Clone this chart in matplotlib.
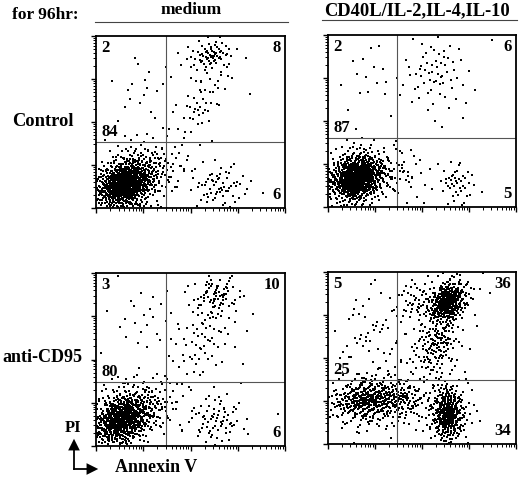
import numpy as np
import matplotlib
matplotlib.use("Agg")
import matplotlib.pyplot as plt
from matplotlib.patches import FancyArrowPatch

# ---------------- data ----------------
column_titles = ["medium", "CD40L/IL-2,IL-4,IL-10"]
row_titles = ["Control", "anti-CD95"]
x_label = "Annexin V"
y_label = "PI"
header = "for 96hr:"

# quadrant percentages: (upper-left, upper-right, lower-left, lower-right)
quad_pct = [
    ["2", "8", "84", "6"],
    ["2", "6", "87", "5"],
    ["3", "10", "80", "6"],
    ["5", "36", "25", "34"],
]
# quadrant gate positions in decades (x = Annexin V, y = PI)
gate_x = [1.48, 1.47, 1.48, 1.47]
gate_y = [1.53, 1.60, 1.48, 1.49]

# event populations per panel: (center x decade, center y decade, sd x, sd y, n events, xy corr)
populations = [
    [(0.62, 0.55, 0.36, 0.32, 850, 0.25), (1.00, 0.95, 0.45, 0.35, 110, 0.3),
     (2.60, 0.50, 0.35, 0.30, 70, 0.0), (2.45, 3.55, 0.28, 0.22, 75, 0.2),
     (2.20, 2.40, 0.35, 0.55, 55, 0.6), (1.00, 2.80, 0.45, 0.50, 20, 0.2)],
    [(0.62, 0.68, 0.35, 0.30, 900, 0.2), (1.60, 0.75, 0.30, 0.35, 25, 0.0),
     (2.75, 0.55, 0.22, 0.28, 45, 0.0), (2.30, 3.10, 0.40, 0.55, 70, 0.0),
     (0.90, 3.10, 0.45, 0.55, 18, 0.0)],
    [(0.55, 0.62, 0.36, 0.32, 820, 0.25), (1.00, 0.95, 0.45, 0.35, 110, 0.3),
     (2.55, 0.60, 0.35, 0.35, 80, 0.0), (2.55, 3.50, 0.28, 0.28, 80, 0.1),
     (2.30, 2.50, 0.40, 0.55, 70, 0.3), (1.05, 2.90, 0.45, 0.55, 28, 0.0)],
    [(0.85, 1.02, 0.45, 0.28, 470, 0.1), (1.55, 1.05, 0.35, 0.30, 110, 0.0),
     (2.55, 0.70, 0.20, 0.35, 400, 0.0), (2.55, 3.30, 0.22, 0.27, 360, 0.3),
     (2.30, 2.30, 0.30, 0.45, 160, 0.3), (1.90, 3.30, 0.30, 0.35, 60, 0.0),
     (0.90, 2.60, 0.45, 0.65, 55, 0.0)],
]


# deterministic quasi-random sequence (Halton) for event placement
def halton(i, base):
    f, r = 1.0, 0.0
    while i > 0:
        f /= base
        r += f * (i % base)
        i //= base
    return r


BASES = [(2, 3), (5, 7), (3, 5), (7, 11), (2, 5), (3, 7), (5, 11)]


def events(cx, cy, sx, sy, n, rho, offset, k):
    b1, b2 = BASES[k % len(BASES)]
    idx = np.arange(offset + 1, offset + n + 1)
    u1 = np.array([halton(i, b1) for i in idx])
    u2 = np.array([halton(i, b2) for i in idx])
    u1 = np.clip(u1, 1e-4, 1 - 1e-4)
    u2 = np.clip(u2, 1e-4, 1 - 1e-4)
    z1 = 0.551 * np.log(u1 / (1 - u1))
    z2 = 0.551 * np.log(u2 / (1 - u2))
    z2 = rho * z1 + np.sqrt(1 - rho ** 2) * z2
    return cx + sx * z1, cy + sy * z2


# ---------------- figure ----------------
W, H = 520, 478
fig = plt.figure(figsize=(W / 100, H / 100), dpi=100)
plt.rcParams['font.family'] = ['Liberation Serif', 'DejaVu Serif']

# panel rectangles in pixels (left, top, right, bottom)
rects = [(96, 36, 285, 208), (328, 35, 516, 207), (96, 273, 285, 446), (328, 272, 516, 444)]


def px2fig(x, y):
    return x / W, 1 - y / H


for p, (l, t, r, b) in enumerate(rects):
    ax = fig.add_axes([l / W, 1 - b / H, (r - l) / W, (b - t) / H])
    ax.set_xscale('log')
    ax.set_yscale('log')
    ax.set_xlim(1, 1e4)
    ax.set_ylim(1, 1e4)
    xs, ys = [], []
    off = 37 + p * 1711
    for k, (cx, cy, sx, sy, n, rho) in enumerate(populations[p]):
        x, y = events(cx, cy, sx, sy, n, rho, off, k + p)
        off += 53
        xs.append(x)
        ys.append(y)
    xs = np.concatenate(xs)
    ys = np.concatenate(ys)
    keep = (xs > 0.01) & (xs < 3.98) & (ys > 0.01) & (ys < 3.98)
    ax.scatter(10 ** xs[keep], 10 ** ys[keep], s=1.0, marker='s', c='black', linewidths=0)
    ax.axvline(10 ** gate_x[p], color='#555555', lw=0.8)
    ax.axhline(10 ** gate_y[p], color='#555555', lw=0.8)
    for sp in ax.spines.values():
        sp.set_linewidth(1.3)
    ax.tick_params(which='major', direction='out', length=3.5, width=1.0)
    ax.tick_params(which='minor', direction='out', length=2.0, width=0.7)
    ax.xaxis.set_major_locator(matplotlib.ticker.LogLocator(base=10, numticks=10))
    ax.yaxis.set_major_locator(matplotlib.ticker.LogLocator(base=10, numticks=10))
    ax.xaxis.set_minor_locator(matplotlib.ticker.LogLocator(base=10, subs=np.arange(2, 10), numticks=20))
    ax.yaxis.set_minor_locator(matplotlib.ticker.LogLocator(base=10, subs=np.arange(2, 10), numticks=20))
    ax.set_xticklabels([], minor=True)
    ax.set_yticklabels([], minor=True)
    ax.set_xticklabels([])
    ax.set_yticklabels([])
    ul, ur, ll, lr = quad_pct[p]
    kw = dict(transform=ax.transAxes, fontsize=12, fontweight='bold')
    ax.text(0.03, 0.975, ul, ha='left', va='top', **kw)
    ax.text(0.975, 0.975, ur, ha='right', va='top', **kw)
    gy = gate_y[p] / 4
    ax.text(0.03, gy + 0.01, ll, ha='left', va='bottom', **kw)
    ax.text(0.975, 0.03, lr, ha='right', va='bottom', **kw)

# header and column titles
fig.text(*px2fig(12, 15), header, ha='left', va='center', fontsize=12.5, fontweight='bold')
fig.text(*px2fig(191, 10), column_titles[0], ha='center', va='center', fontsize=12.5, fontweight='bold')
fig.text(*px2fig(417, 11), column_titles[1], ha='center', va='center', fontsize=13.3, fontweight='bold')
fig.add_artist(plt.Line2D([95 / W, 288 / W], [1 - 22 / H, 1 - 22 / H], color='#444444', lw=0.8))
fig.add_artist(plt.Line2D([322 / W, 517 / W], [1 - 20 / H, 1 - 20 / H], color='#444444', lw=0.8))

# row titles
fig.text(*px2fig(43, 121), row_titles[0], ha='center', va='center', fontsize=13.3, fontweight='bold')
fig.text(*px2fig(42, 358), row_titles[1], ha='center', va='center', fontsize=13, fontweight='bold')

# axis indicator arrows
ox, oy = 74, 469
fig.add_artist(plt.Line2D([ox / W, ox / W], [1 - oy / H, 1 - 442 / H], color='black', lw=1.3))
fig.add_artist(plt.Line2D([ox / W, 94 / W], [1 - oy / H, 1 - oy / H], color='black', lw=1.3))
fig.add_artist(FancyArrowPatch(px2fig(ox, 446), px2fig(ox, 436), transform=fig.transFigure,
                               arrowstyle='-|>,head_length=0.7,head_width=0.35', mutation_scale=12,
                               color='black', lw=0))
fig.add_artist(FancyArrowPatch(px2fig(91, oy), px2fig(101, oy), transform=fig.transFigure,
                               arrowstyle='-|>,head_length=0.7,head_width=0.35', mutation_scale=12,
                               color='black', lw=0))
fig.text(*px2fig(73, 428), y_label, ha='center', va='center', fontsize=12, fontweight='bold')
fig.text(*px2fig(115, 468), x_label, ha='left', va='center', fontsize=13, fontweight='bold')

fig.savefig('out.png', dpi=100)
